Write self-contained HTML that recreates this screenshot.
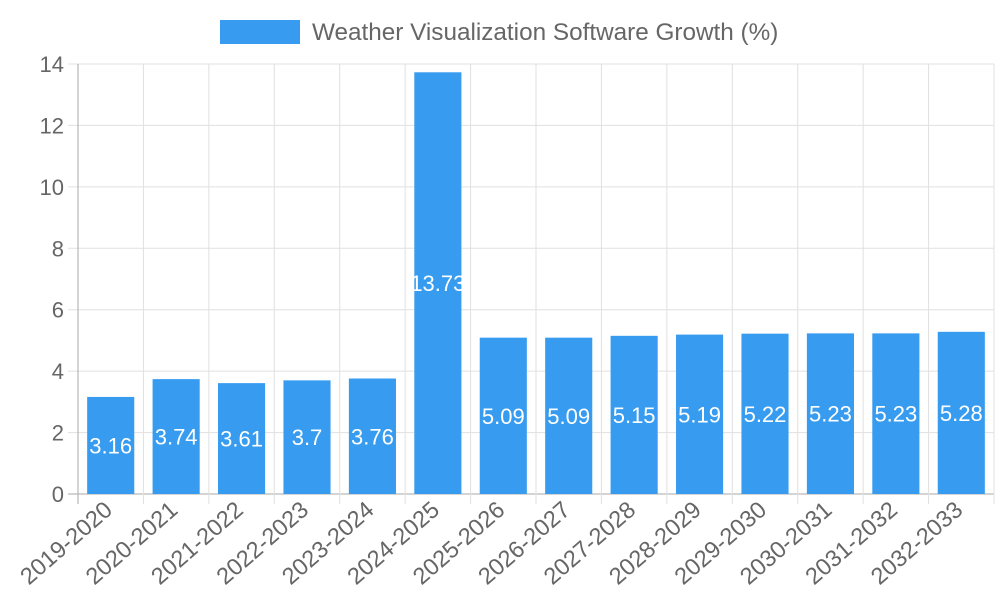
<!DOCTYPE html>
<html><head><meta charset="utf-8"><style>
body{margin:0;background:#fff;}
svg{display:block;font-family:"Liberation Sans",sans-serif;}
</style></head><body>
<svg id="chart" width="1000" height="600">
<g>
<rect x="220" y="20" width="80" height="24" fill="#379cf0"></rect>
<text x="312" y="40" font-size="24.3" fill="#666">Weather Visualization Software Growth (%)</text>
</g>
</svg>
<script>
const categories=["2019-2020","2020-2021","2021-2022","2022-2023","2023-2024","2024-2025","2025-2026","2026-2027","2027-2028","2028-2029","2029-2030","2030-2031","2031-2032","2032-2033"];
const values=[3.16,3.74,3.61,3.7,3.76,13.73,5.09,5.09,5.15,5.19,5.22,5.23,5.23,5.28];
const yTicks=[0,2,4,6,8,10,12,14];
const svg=document.getElementById('chart');
const NS='http://www.w3.org/2000/svg';
const L=78,R=994,T=64,B=494,yMax=14;
const bw=(R-L)/categories.length;
const y=v=>B-(v/yMax)*(B-T);
const x=i=>L+i*bw;
function mk(tag,attrs){const e=document.createElementNS(NS,tag);for(const k in attrs)e.setAttribute(k,attrs[k]);svg.appendChild(e);return e;}
yTicks.forEach(t=>{
 const g=mk('line',{x1:L-10,x2:R,y1:y(t),y2:y(t),stroke:t===0?'#aaa':'#e0e0e0','stroke-width':1});
 
 
 const tx=mk('text',{x:L-14,y:y(t)+8,'font-size':22,fill:'#666','text-anchor':'end'});
 tx.textContent=t;
 
 
});
for(let i=0;i<=categories.length;i++){
 const g=mk('line',{x1:x(i),x2:x(i),y1:T,y2:B+10,stroke:i===0?'#aaa':'#e0e0e0','stroke-width':1});
 
 
}
categories.forEach((c,i)=>{
 const bx=x(i)+bw*0.14,w=bw*0.72;
 const r=mk('rect',{x:bx,y:y(values[i]),width:w,height:B-y(values[i]),fill:'#379cf0'});
 
 
 const lb=mk('text',{x:bx+w/2,y:(y(values[i])+B)/2+8,'font-size':22,fill:'#fff','text-anchor':'middle'});
 lb.textContent=values[i];
 
 
 const cx=x(i)+bw/2+3,cy=B+18;
 const tl=mk('text',{x:cx,y:cy,'font-size':23.5,fill:'#666','text-anchor':'end',transform:`rotate(-41 ${cx} ${cy})`});
 tl.textContent=c;
 
 
});
</script>
</body></html>
